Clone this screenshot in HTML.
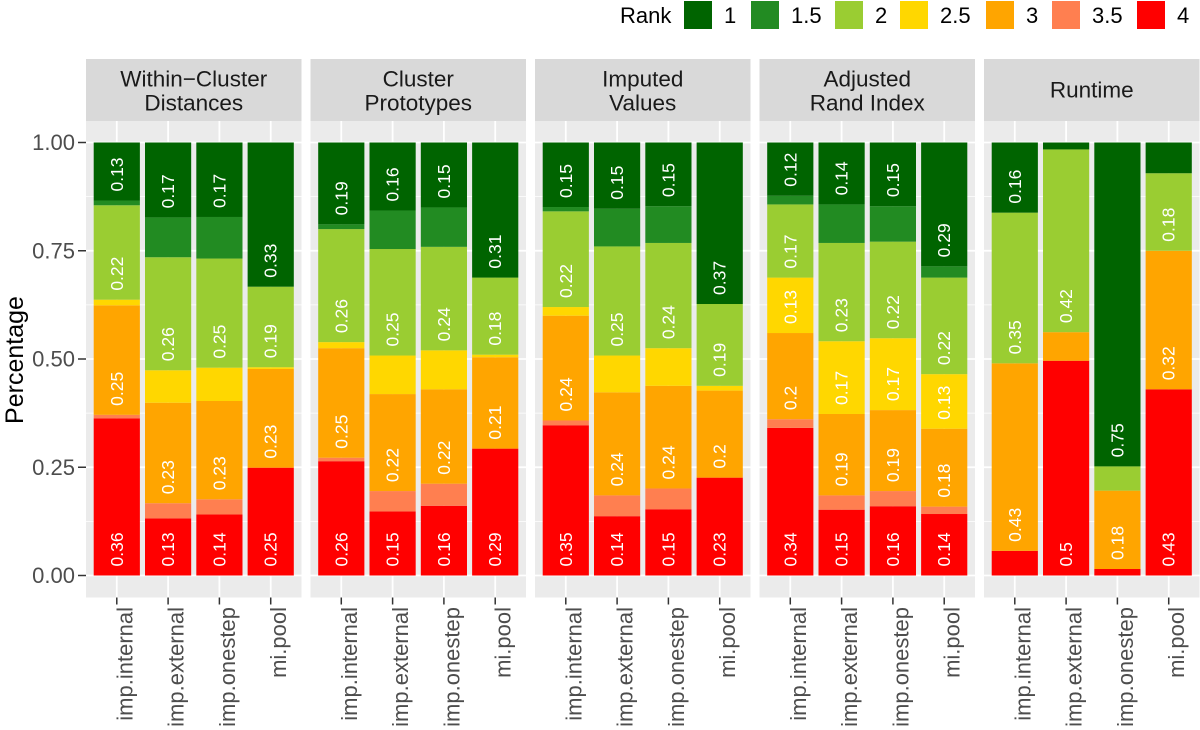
<!DOCTYPE html>
<html><head><meta charset="utf-8"><style>
html,body{margin:0;padding:0;background:#fff;}
svg{display:block;font-family:"Liberation Sans",Arial,sans-serif;}
</style></head><body>
<svg id="chart" width="1200" height="730" viewBox="0 0 1200 730" xmlns="http://www.w3.org/2000/svg">
<g id="legend"></g>
<g id="panels"></g>
<g id="yaxis"></g>
<text transform="translate(23,360) rotate(-90)" text-anchor="middle" font-size="25" fill="#000">Percentage</text>
</svg>
<script>
// ---- data ----
const facets = [["Within\u2212Cluster","Distances"],["Cluster","Prototypes"],["Imputed","Values"],["Adjusted","Rand Index"],["Runtime"]];
const methods = ["imp.internal","imp.external","imp.onestep","mi.pool"];
const ranks = ["4","3.5","3","2.5","2","1.5","1"]; // bottom to top
const rankColors = {"1":"#006400","1.5":"#228B22","2":"#9ACD32","2.5":"#FFD700","3":"#FFA500","3.5":"#FF7F50","4":"#FF0000"};
const legendRanks = ["1","1.5","2","2.5","3","3.5","4"];
// shares per method, ordered ranks 4,3.5,3,2.5,2,1.5,1
const withinCluster = [[0.363,0.008,0.253,0.013,0.218,0.011,0.134],[0.132,0.035,0.232,0.075,0.261,0.092,0.173],[0.141,0.035,0.227,0.077,0.252,0.096,0.172],[0.249,0,0.228,0.004,0.186,0,0.333]];
const prototypes = [[0.264,0.008,0.253,0.014,0.261,0.011,0.189],[0.148,0.047,0.224,0.089,0.246,0.089,0.157],[0.161,0.051,0.218,0.090,0.239,0.091,0.150],[0.293,0,0.211,0.006,0.178,0,0.312]];
const imputed = [[0.347,0.011,0.242,0.020,0.221,0.010,0.149],[0.137,0.048,0.238,0.085,0.252,0.087,0.153],[0.153,0.048,0.237,0.087,0.243,0.085,0.147],[0.226,0,0.201,0.011,0.189,0,0.373]];
const randIndex = [[0.341,0.020,0.199,0.128,0.169,0.020,0.123],[0.152,0.033,0.188,0.168,0.227,0.089,0.143],[0.160,0.035,0.187,0.166,0.223,0.082,0.147],[0.142,0.017,0.180,0.126,0.223,0.026,0.286]];
const runtime = [[0.057,0,0.433,0,0.348,0,0.162],[0.496,0,0.066,0,0.422,0,0.016],[0.015,0,0.181,0,0.056,0,0.748],[0.430,0,0.320,0,0.179,0,0.071]];
const yTicks = [0,0.25,0.5,0.75,1];
const yTickLabels = ["0.00","0.25","0.50","0.75","1.00"];
const facetData = [withinCluster, prototypes, imputed, randIndex, runtime];

const NS="http://www.w3.org/2000/svg";
function mk(tag, attrs, parent){const e=document.createElementNS(NS,tag);for(const k in attrs)e.setAttribute(k,attrs[k]);parent.appendChild(e);return e;}
const plotTop=121, plotBot=597.5, y0=575.5, y1=142.5;
const panelLeft=86, panelW=215.5, gap=9;
const y = v => y0 - v*(y0-y1);
const unit = panelW/4.2;
const xc = (p,i) => panelLeft + p*(panelW+gap) + unit*(i+1) - 0.3*unit + 0.3*unit;
function barCenter(p,i){return panelLeft + p*(panelW+gap) + unit*(0.6+i);}

const panels=document.getElementById('panels');
facets.forEach((f,p)=>{
  const px = panelLeft + p*(panelW+gap);
  const g=mk('g',{},panels);
  
  
  const strip=mk('rect',{x:px,y:59,width:panelW,height:plotTop-59,fill:'#D9D9D9'},g);
  
  
  f.forEach((line,li)=>{
    const cy = f.length===1 ? 90 : (li===0?79:103);
    const t=mk('text',{x:px+panelW/2,y:cy,'text-anchor':'middle','dominant-baseline':'central','font-size':'22.5',fill:'#1A1A1A'},g);
    t.textContent=line;
    
    
  });
  const bg=mk('rect',{x:px,y:plotTop,width:panelW,height:plotBot-plotTop,fill:'#EBEBEB'},g);
  
  
  for(let k=0;k<yTicks.length-1;k++){
    const v=(yTicks[k]+yTicks[k+1])/2;
    mk('line',{x1:px,x2:px+panelW,y1:y(v),y2:y(v),stroke:'#fff','stroke-width':0.8},g);
  }
  yTicks.forEach(v=>mk('line',{x1:px,x2:px+panelW,y1:y(v),y2:y(v),stroke:'#fff','stroke-width':1.8},g));
  methods.forEach((m,i)=>mk('line',{x1:barCenter(p,i),x2:barCenter(p,i),y1:plotTop,y2:plotBot,stroke:'#fff','stroke-width':1.8},g));
  methods.forEach((m,i)=>{
    const cx=barCenter(p,i), bw=unit*0.9;
    const vals=facetData[p][i];
    let cum=0;
    vals.forEach((v,r)=>{
      if(v<=0){return;}
      const seg=mk('rect',{x:cx-bw/2,y:y(cum+v),width:bw,height:y(cum)-y(cum+v),fill:rankColors[ranks[r]]},g);
      
      
      if(v>=0.1){
        const lb=mk('text',{transform:`translate(${cx},${y(cum)-9}) rotate(-90)`,'text-anchor':'start','dominant-baseline':'central','font-size':'17.5',fill:'#fff'},g);
        lb.textContent=String(Number(v.toFixed(2)));
        
        
      }
      cum+=v;
    });
    mk('line',{x1:cx,x2:cx,y1:plotBot,y2:plotBot+7,stroke:'#333','stroke-width':1.5},g);
    const xl=mk('text',{transform:`translate(${cx+8},607) rotate(-90)`,'text-anchor':'end','dominant-baseline':'central','font-size':'22',fill:'#4D4D4D'},g);
    xl.textContent=m;
    
    
  });
});

const ya=document.getElementById('yaxis');
yTicks.forEach((v,k)=>{
  mk('line',{x1:78,x2:86,y1:y(v),y2:y(v),stroke:'#333','stroke-width':1.5},ya);
  const t=mk('text',{x:75,y:y(v),'text-anchor':'end','dominant-baseline':'central','font-size':'22',fill:'#4D4D4D'},ya);
  t.textContent=yTickLabels[k];
  
  
});

const lg=document.getElementById('legend');
const lt=mk('text',{x:620,y:23,'font-size':'22',fill:'#000'},lg);
lt.textContent='Rank';


const keyX=[684,751,835,900,986,1052,1137];
legendRanks.forEach((r,k)=>{
  const kr=mk('rect',{x:keyX[k],y:1,width:28,height:28,fill:rankColors[r]},lg);
  
  
  const t=mk('text',{x:keyX[k]+40,y:23,'font-size':'22',fill:'#000'},lg);
  t.textContent=r;
  
  
});
</script>
</body></html>
